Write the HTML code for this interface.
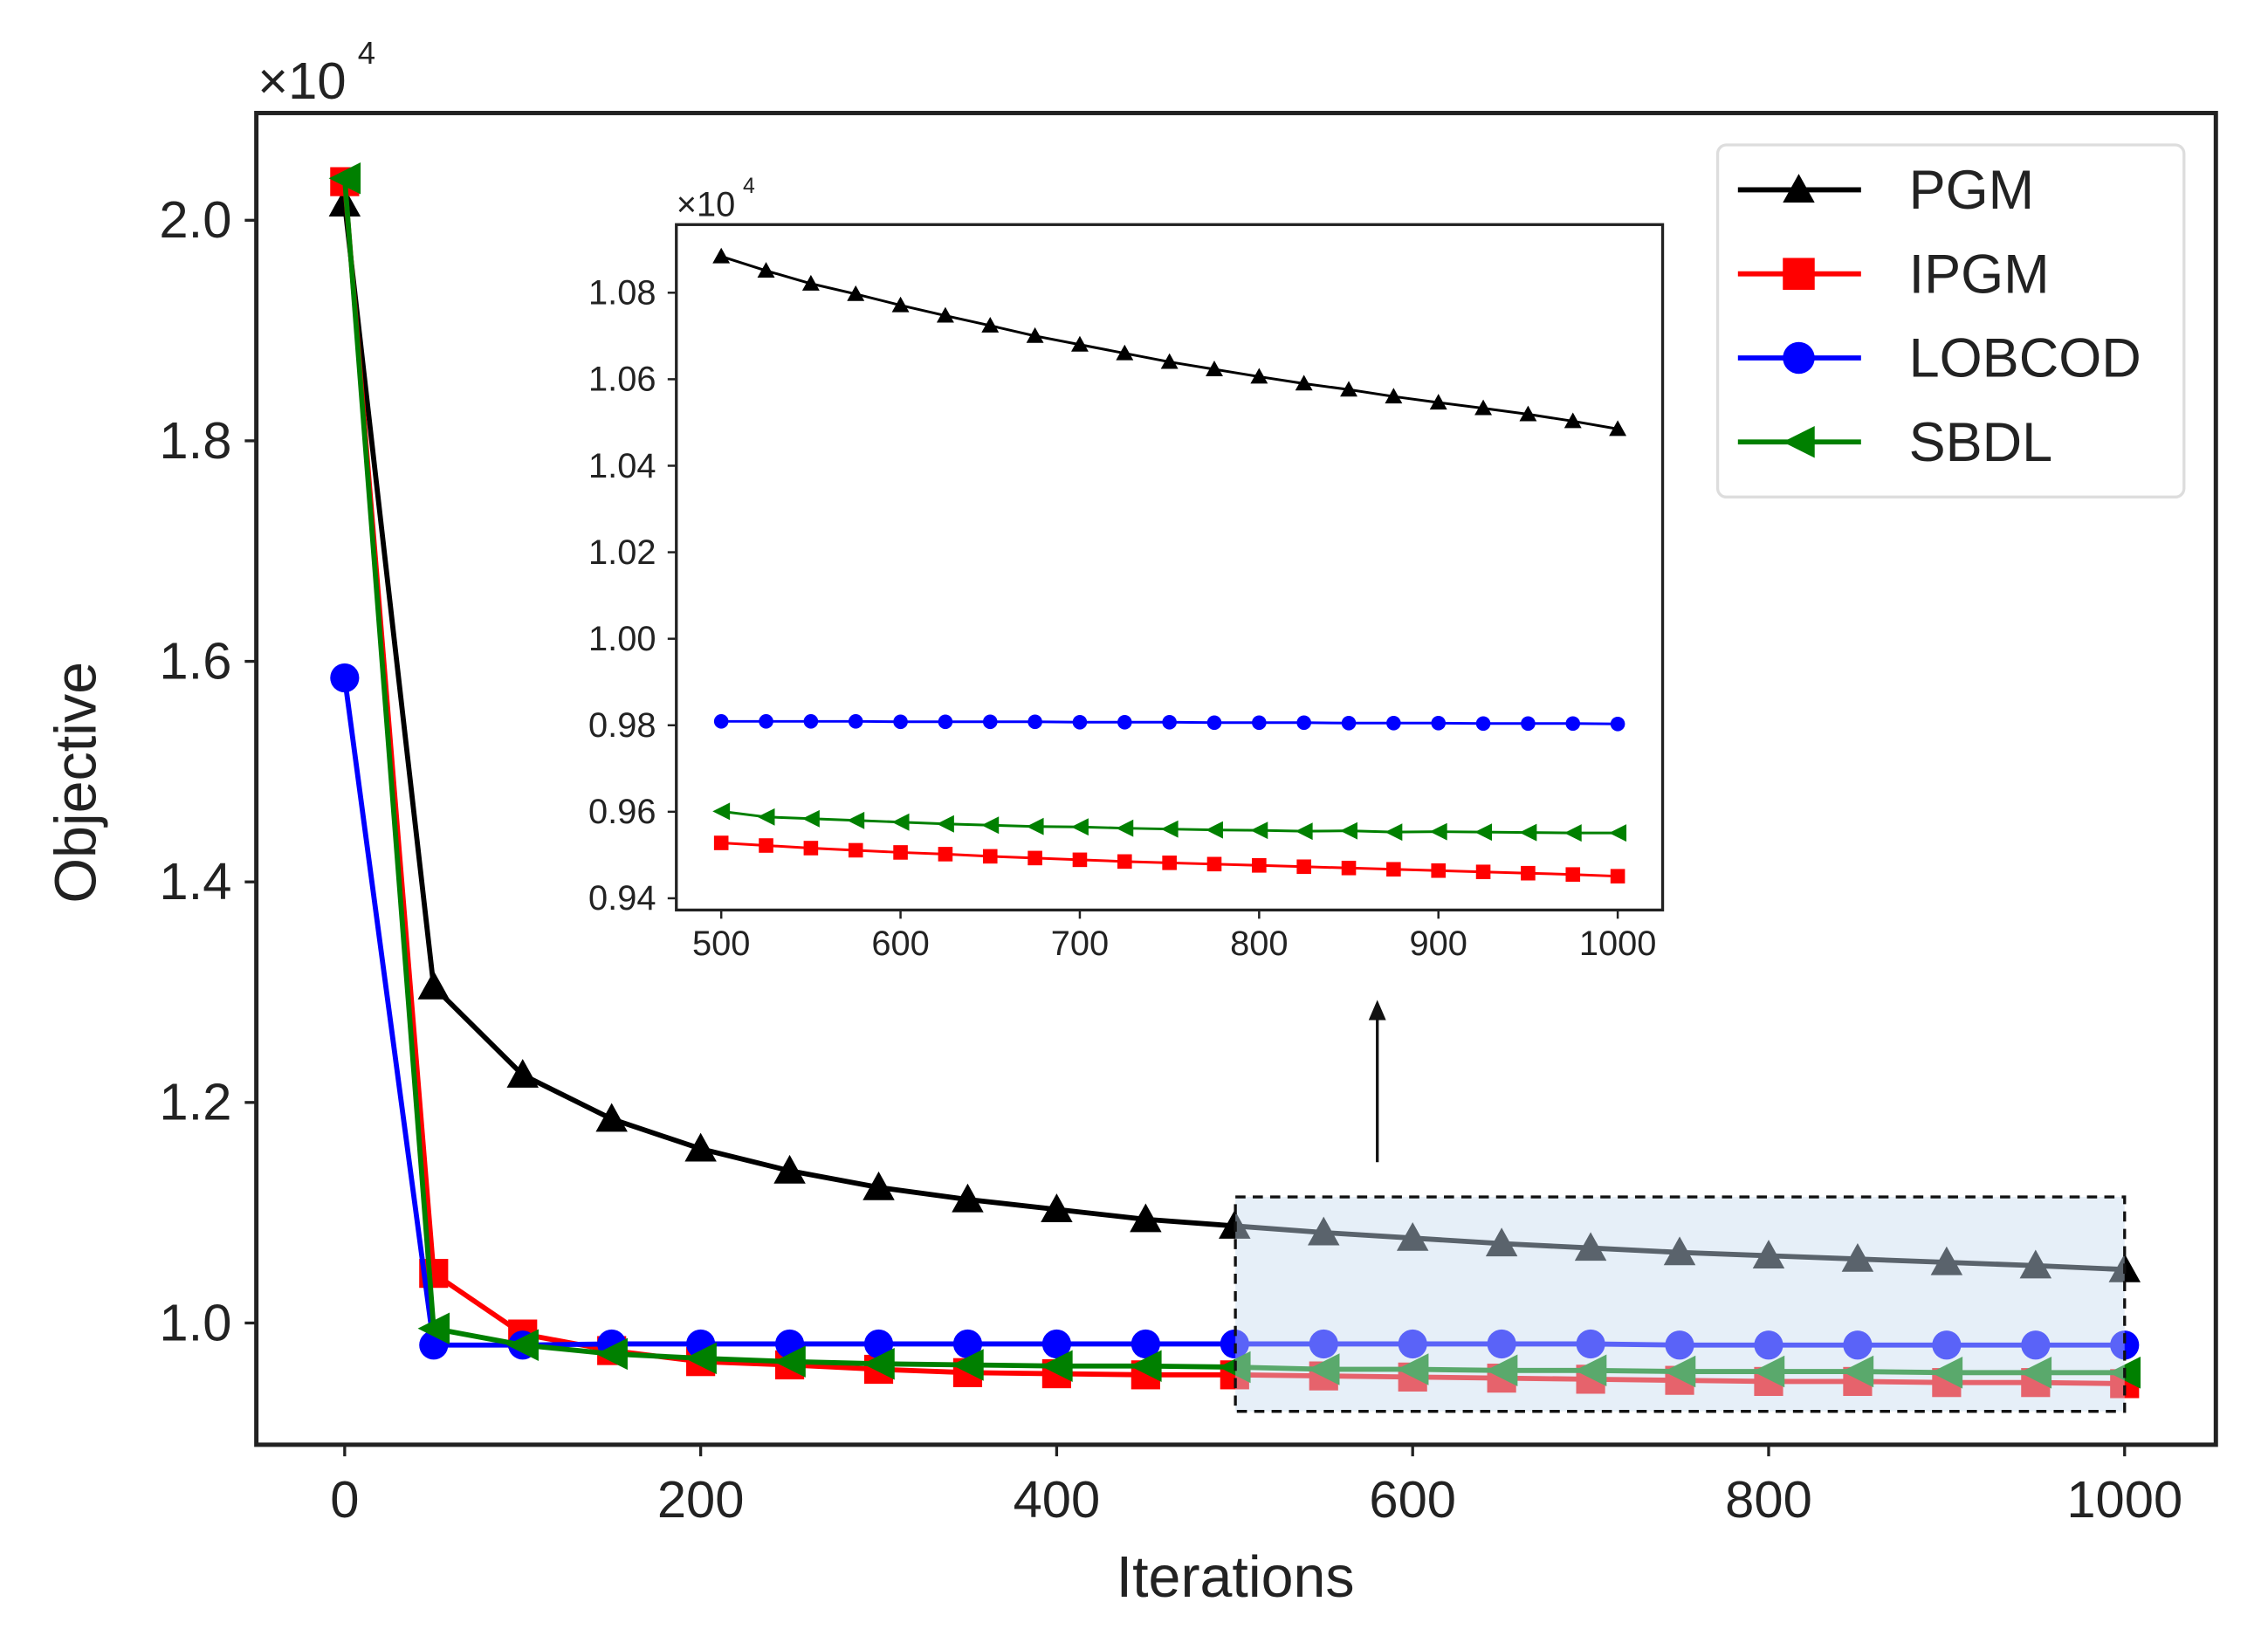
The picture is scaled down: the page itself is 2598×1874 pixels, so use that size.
<!DOCTYPE html>
<html><head><meta charset="utf-8"><style>
html,body{margin:0;padding:0;background:#fff}
svg{display:block;font-family:"Liberation Sans",Arial,sans-serif}
</style></head><body>
<svg id="chart" width="2598" height="1874" viewBox="0 0 1566 1129" preserveAspectRatio="none" xmlns="http://www.w3.org/2000/svg"></svg>
<script>
// ---- data ----
const mainIters = [0,50,100,150,200,250,300,350,400,450,500,550,600,650,700,750,800,850,900,950,1000];
const mainPGM   = [2.015,1.305,1.225,1.185,1.158,1.138,1.123,1.112,1.103,1.094,1.088,1.082,1.077,1.072,1.068,1.064,1.061,1.058,1.055,1.052,1.0485];
const mainIPGM  = [2.035,1.045,0.990,0.975,0.965,0.962,0.958,0.955,0.954,0.953,0.953,0.952,0.951,0.950,0.949,0.948,0.947,0.947,0.946,0.946,0.945];
const mainLOB   = [1.585,0.980,0.980,0.981,0.981,0.981,0.981,0.981,0.981,0.981,0.981,0.981,0.981,0.981,0.981,0.980,0.980,0.980,0.980,0.980,0.980];
const mainSBDL  = [2.038,0.995,0.980,0.972,0.968,0.965,0.963,0.962,0.961,0.961,0.960,0.958,0.958,0.957,0.957,0.956,0.956,0.956,0.955,0.955,0.955];
const mainXTicks = [0,200,400,600,800,1000];
const mainYTicks = [1.0,1.2,1.4,1.6,1.8,2.0];

const insetIters = [500,525,550,575,600,625,650,675,700,725,750,775,800,825,850,875,900,925,950,975,1000];
const insetPGM  = [1.0884,1.0851,1.0821,1.0797,1.0771,1.0747,1.0724,1.0700,1.0680,1.0660,1.0640,1.0623,1.0606,1.0590,1.0576,1.0560,1.0546,1.0533,1.0519,1.0503,1.0485];
const insetLOB  = [0.9809,0.9809,0.9809,0.9809,0.9808,0.9808,0.9808,0.9808,0.9807,0.9807,0.9807,0.9806,0.9806,0.9806,0.9805,0.9805,0.9805,0.9804,0.9804,0.9804,0.9803];
const insetSBDL = [0.9601,0.9588,0.9584,0.9580,0.9576,0.9572,0.9569,0.9566,0.9565,0.9562,0.9560,0.9558,0.9557,0.9555,0.9556,0.9553,0.9554,0.9553,0.9552,0.9551,0.9551];
const insetIPGM = [0.9528,0.9522,0.9516,0.9511,0.9506,0.9502,0.9497,0.9493,0.9489,0.9485,0.9482,0.9479,0.9476,0.9473,0.9470,0.9467,0.9464,0.9461,0.9458,0.9455,0.9451];
const insetXTicks = [500,600,700,800,900,1000];
const insetYTicks = [0.94,0.96,0.98,1.00,1.02,1.04,1.06,1.08];
const legendLabels = ["PGM","IPGM","LOBCOD","SBDL"];

const NS="http://www.w3.org/2000/svg";
const svg=document.getElementById('chart');
function mk(tag,attrs,parent){const e=document.createElementNS(NS,tag);for(const k in attrs)e.setAttribute(k,attrs[k]);(parent||svg).appendChild(e);return e;}

// axis functions
const mx=v=>238+(v-0)*(1467-238)/1000;
const my=v=>913-(v-1.0)*(913-152)/1.0;
const ix=v=>498+(v-500)*(1117-498)/500;
const iy=v=>202+(1.08-v)*(59.7/0.02);

function marker(g,type,x,y,s,color){
  let e;
  if(type==='tri') e=mk('polygon',{points:`${x},${y-s} ${x-s},${y+s*0.8} ${x+s},${y+s*0.8}`,fill:color},g);
  else if(type==='sq') e=mk('rect',{x:x-s,y:y-s,width:2*s,height:2*s,fill:color},g);
  else if(type==='circ') e=mk('circle',{cx:x,cy:y,r:s,fill:color},g);
  else e=mk('polygon',{points:`${x-s},${y} ${x+s},${y-s} ${x+s},${y+s}`,fill:color},g);
  return e;
}
function series(name,xs,ys,fx,fy,color,type,s,lw){
  const g=mk('g',{});
  
  
  mk('polyline',{points:xs.map((v,i)=>fx(v)+','+fy(ys[i])).join(' '),fill:'none',stroke:color,'stroke-width':lw,'stroke-linejoin':'round'},g);
  xs.forEach((v,i)=>{const m=marker(g,type,fx(v),fy(ys[i]),s,color);
    
    });
}
function text(str,x,y,size,anchor,name,extra){
  const t=mk('text',Object.assign({x:x,y:y,'font-size':size,'text-anchor':anchor||'middle',fill:'#222'},extra||{}));
  t.textContent=str;
  
  
  return t;
}

// main axes frame
const frame=mk('rect',{x:177,y:78,width:1353,height:919,fill:'#fff',stroke:'#222','stroke-width':3});


mainXTicks.forEach(v=>{mk('line',{x1:mx(v),x2:mx(v),y1:997,y2:1005,stroke:'#222','stroke-width':2});
  text(String(v),mx(v),1047,36,'middle','x-tick-label');});
mainYTicks.forEach(v=>{mk('line',{x1:169,x2:177,y1:my(v),y2:my(v),stroke:'#222','stroke-width':2});
  text(v.toFixed(1),160,my(v)+12,36,'end','y-tick-label');});
text('Iterations',853,1102,40,'middle','x-axis-title');
text('Objective',66,540,40,'middle','y-axis-title',{transform:'rotate(-90 66 540)'});
text('×10',178,68,36,'start','y-axis-exponent');
text('4',247,44,22,'start','y-axis-exponent-power');

// main series
series('pgm-series',mainIters,mainPGM,mx,my,'#000','tri',11,3.5);
series('ipgm-series',mainIters,mainIPGM,mx,my,'#ff0000','sq',10,3.5);
series('lobcod-series',mainIters,mainLOB,mx,my,'#0000ff','circ',10,3.5);
series('sbdl-series',mainIters,mainSBDL,mx,my,'#008000','ltri',11,3.5);

// zoom region box
const zr=mk('rect',{x:853,y:826,width:614,height:148,fill:'rgba(200,220,240,0.45)',stroke:'#111','stroke-width':2,'stroke-dasharray':'7,5'});


const ar=mk('g',{});


mk('line',{x1:951,y1:802,x2:951,y2:700,stroke:'#111','stroke-width':2},ar);
mk('polygon',{points:'951,690 945,704 957,704',fill:'#111'},ar);

// inset
const ib=mk('rect',{x:467,y:155,width:681,height:473,fill:'#fff',stroke:'#222','stroke-width':2});


insetXTicks.forEach(v=>{mk('line',{x1:ix(v),x2:ix(v),y1:628,y2:634,stroke:'#222','stroke-width':1.5});
  text(String(v),ix(v),659,24,'middle','inset-x-tick-label');});
insetYTicks.forEach(v=>{mk('line',{x1:461,x2:467,y1:iy(v),y2:iy(v),stroke:'#222','stroke-width':1.5});
  text(v.toFixed(2),453,iy(v)+8,24,'end','inset-y-tick-label');});
text('×10',467,149,24,'start','inset-exponent');
text('4',513,133,15,'start','inset-exponent-power');
series('inset-pgm-series',insetIters,insetPGM,ix,iy,'#000','tri',6,1.8);
series('inset-ipgm-series',insetIters,insetIPGM,ix,iy,'#ff0000','sq',5,1.8);
series('inset-lobcod-series',insetIters,insetLOB,ix,iy,'#0000ff','circ',5,1.8);
series('inset-sbdl-series',insetIters,insetSBDL,ix,iy,'#008000','ltri',6,1.8);

// legend
const lg=mk('g',{});


mk('rect',{x:1186,y:100,width:322,height:243,rx:6,fill:'#fff',stroke:'#ddd','stroke-width':2},lg);
const lc=['#000','#ff0000','#0000ff','#008000'], lt=['tri','sq','circ','ltri'];
legendLabels.forEach((l,i)=>{
  const y=131+i*58;
  const e=mk('g',{},lg);
  
  
  mk('line',{x1:1200,x2:1285,y1:y,y2:y,stroke:lc[i],'stroke-width':3.5},e);
  marker(e,lt[i],1242,y,11,lc[i]);
  const t=mk('text',{x:1318,y:y+13,'font-size':38,fill:'#222'},e);t.textContent=l;
});
</script>
</body></html>
